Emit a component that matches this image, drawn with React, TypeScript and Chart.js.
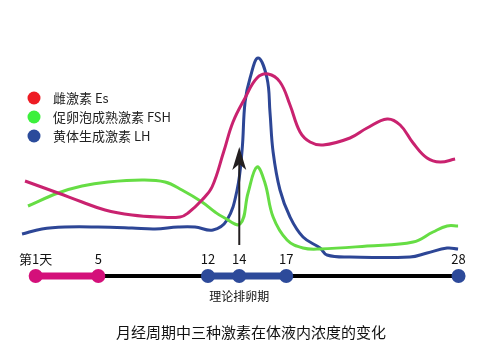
import React, { useEffect, useRef } from "react";
import { Chart, registerables } from "chart.js";

Chart.register(...registerables);

// Hormone curves (day of cycle, relative concentration)
const esDays = [0.32, 2.43, 3.96, 5.43, 7.15, 8.81, 10.22, 10.73, 11.62, 12.26, 13.0, 13.6, 14.37, 15.13, 15.84, 16.6, 17.24, 17.88, 18.52, 19.35, 21.07, 22.16, 23.44, 24.27, 25.1, 25.99, 26.82, 27.78];
const esValues = [95, 83, 74, 66, 61, 59, 59, 63, 76, 89, 124, 154, 178, 198, 202, 194, 171, 144, 134, 131, 138, 148, 157, 151, 133, 118, 114, 117];

const fshDays = [0.51, 2.43, 3.96, 5.62, 7.79, 9.26, 10.34, 11.62, 12.45, 12.96, 14.05, 14.56, 15.13, 15.64, 16.16, 17.05, 18.07, 19.16, 22.16, 25.1, 26.37, 27.27, 27.97];
const fshValues = [70, 83, 90, 94, 96, 94, 86, 74, 64, 59, 52, 83, 109, 93, 59, 36, 28, 27, 30, 34, 44, 50, 50];

const lhDays = [0.13, 1.4, 2.87, 4.98, 7.15, 8.62, 10.09, 11.17, 12.32, 13.22, 13.86, 14.18, 14.37, 14.69, 15.2, 15.77, 15.96, 16.16, 16.6, 17.24, 18.07, 19.16, 19.6, 21.07, 24.9, 25.99, 27.27, 27.97];
const lhValues = [42, 47, 49, 49, 48, 47, 49, 49, 46, 56, 86, 126, 174, 198, 218, 198, 164, 124, 86, 59, 39, 28, 21, 19, 19, 23, 28, 27];

// Timeline
const timelineDays = [1, 5, 12, 14, 17, 28];
const timelineLabels = ["第1天", "5", "12", "14", "17", "28"];
const menstrualDays = [1, 5];
const ovulationDays = [12, 14, 17];
const ovulationDay = 14;
const ovulationLabel = "理论排卵期";
const arrowFrom = 31;
const arrowTo = 129;

const seriesNames = ["雌激素 Es", "促卵泡成熟激素 FSH", "黄体生成激素 LH"];
const legendColors = ["#ee1c24", "#3cf03c", "#2b4b9b"];
const curveColors = ["#c9226f", "#66dd44", "#2d4696"];
const titleText = "月经周期中三种激素在体液内浓度的变化";

const PINK = "#d4107a";
const BLUE = "#2d4a9a";
const FONT = '"Noto Sans CJK SC", "Noto Sans", sans-serif';

const toPts = (xs: number[], ys: number[]) => xs.map((x, i) => ({ x, y: ys[i] }));

export default function App() {
  const ref = useRef<HTMLCanvasElement | null>(null);

  useEffect(() => {
    if (!ref.current) return;

    const overlay = {
      id: "overlay",
      afterDraw(chart: any) {
        const ctx = chart.ctx as CanvasRenderingContext2D;
        const xs = chart.scales.x;
        const ys = chart.scales.y;
        ctx.save();

        // arrow
        const ax = xs.getPixelForValue(ovulationDay);
        const y0 = ys.getPixelForValue(arrowFrom);
        const y1 = ys.getPixelForValue(arrowTo);
        ctx.strokeStyle = "#231f20";
        ctx.fillStyle = "#231f20";
        ctx.lineWidth = 2;
        ctx.beginPath();
        ctx.moveTo(ax, y0);
        ctx.lineTo(ax, y1 + 10);
        ctx.stroke();
        ctx.beginPath();
        ctx.moveTo(ax, y1);
        ctx.lineTo(ax + 7, y1 + 23);
        ctx.lineTo(ax, y1 + 17);
        ctx.lineTo(ax - 7, y1 + 23);
        ctx.closePath();
        ctx.fill();

        // timeline labels
        const base = ys.getPixelForValue(0);
        ctx.fillStyle = "#111";
        ctx.font = `13px ${FONT}`;
        ctx.textAlign = "center";
        ctx.textBaseline = "middle";
        timelineDays.forEach((d, i) => {
          ctx.fillText(timelineLabels[i], xs.getPixelForValue(d), base - 17);
        });
        ctx.font = `12px ${FONT}`;
        ctx.fillText(ovulationLabel, xs.getPixelForValue(ovulationDay), base + 20);

        // legend
        ctx.textAlign = "left";
        ctx.font = `13px ${FONT}`;
        seriesNames.forEach((name, i) => {
          const cy = 98 + i * 19;
          ctx.fillStyle = legendColors[i];
          ctx.beginPath();
          ctx.arc(34, cy, 6.5, 0, Math.PI * 2);
          ctx.fill();
          ctx.fillStyle = "#222";
          ctx.fillText(name, 53, cy);
        });

        // title
        ctx.textAlign = "center";
        ctx.font = `15px ${FONT}`;
        ctx.fillStyle = "#111";
        ctx.fillText(titleText, 251, 332);
        ctx.restore();
      },
    };

    const curve = (label: string, pts: any[], color: string) => ({
      label,
      data: pts,
      borderColor: color,
      backgroundColor: color,
      borderWidth: 3,
      pointRadius: 0,
      tension: 0.4,
      fill: false,
      order: 1,
    });

    const chart = new Chart(ref.current, {
      type: "line",
      data: {
        datasets: [
          curve(seriesNames[0], toPts(esDays, esValues), curveColors[0]),
          curve(seriesNames[1], toPts(fshDays, fshValues), curveColors[1]),
          curve(seriesNames[2], toPts(lhDays, lhValues), curveColors[2]),
          {
            label: "timeline",
            data: [
              { x: timelineDays[0], y: 0 },
              { x: timelineDays[timelineDays.length - 1], y: 0 },
            ],
            borderColor: "#000",
            borderWidth: 4,
            pointRadius: [0, 7],
            pointBackgroundColor: BLUE,
            pointBorderWidth: 0,
            order: 10,
          } as any,
          {
            label: "menses",
            data: menstrualDays.map((d) => ({ x: d, y: 0 })),
            borderColor: PINK,
            borderWidth: 7,
            pointRadius: 7,
            pointBackgroundColor: PINK,
            pointBorderWidth: 0,
            order: 5,
          },
          {
            label: "ovulation",
            data: ovulationDays.map((d) => ({ x: d, y: 0 })),
            borderColor: BLUE,
            borderWidth: 7,
            pointRadius: 7,
            pointBackgroundColor: BLUE,
            pointBorderWidth: 0,
            order: 5,
          },
        ],
      },
      options: {
        animation: false,
        responsive: false,
        layout: { padding: 0, autoPadding: false },
        plugins: { legend: { display: false }, tooltip: { enabled: false }, title: { display: false } },
        scales: {
          x: { type: "linear", min: -1.277, max: 29.37, display: false },
          y: { type: "linear", min: -84, max: 276, display: false },
        },
      },
      plugins: [overlay],
    });
    return () => chart.destroy();
  }, []);

  return (
    <div style={{ position: "fixed", left: 0, top: 0, width: 480, height: 360, background: "#fff" }}>
      <canvas ref={ref} width={480} height={360} />
    </div>
  );
}
